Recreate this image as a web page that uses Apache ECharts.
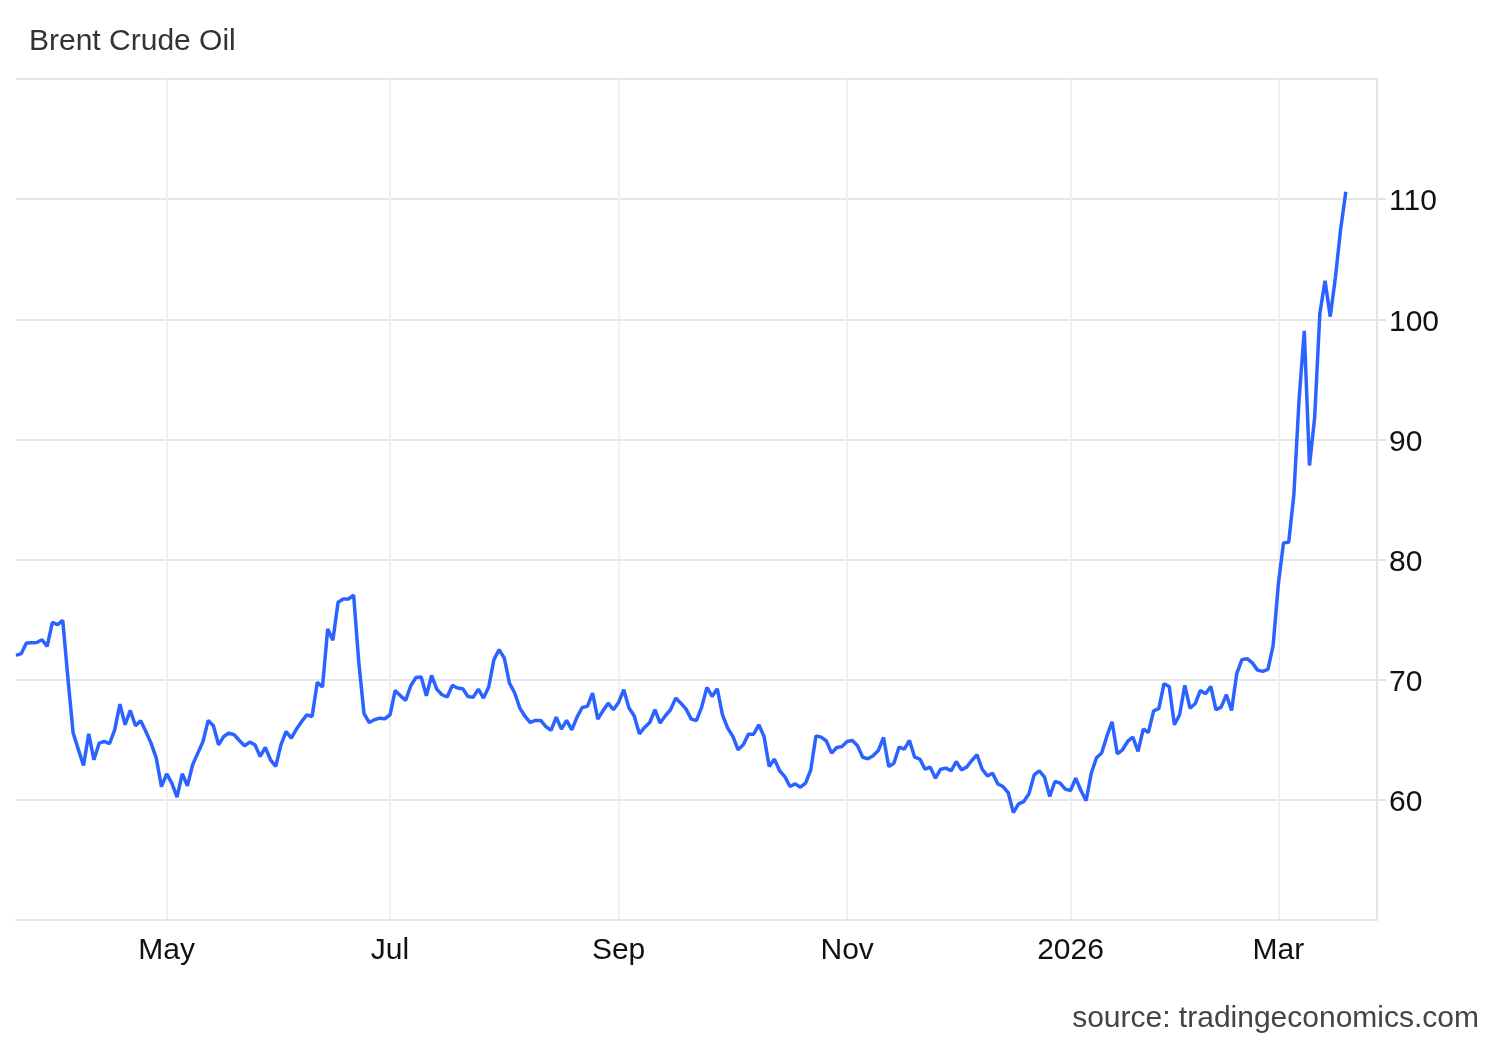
<!DOCTYPE html>
<html>
<head>
<meta charset="utf-8">
<script src="https://cdn.jsdelivr.net/npm/echarts@6/dist/echarts.min.js"></script>
<style>
html,body{margin:0;padding:0;background:#fff;}
#chart{width:1500px;height:1040px;}
</style>
</head>
<body>
<div id="chart"></div>
<script>
// Trading days shown on the category axis (month -> days of month)
const tradingDays = [
  ['2025-03', '20 21 24 25 26 27 28 31'],
  ['2025-04', '1 2 3 4 7 8 9 10 11 14 15 16 17 21 22 23 24 25 28 29 30'],
  ['2025-05', '1 2 5 6 7 8 9 12 13 14 15 16 19 20 21 22 23 26 27 28 29 30'],
  ['2025-06', '2 3 4 5 6 9 10 11 12 13 16 17 18 19 20 23 24 25 26 27 30'],
  ['2025-07', '1 2 3 4 7 8 9 10 11 14 15 16 17 18 21 22 23 24 25 28 29 30 31'],
  ['2025-08', '1 4 5 6 7 8 11 12 13 14 15 18 19 20 21 22 25 26 27 28 29'],
  ['2025-09', '2 3 4 5 8 9 10 11 12 15 16 17 18 19 22 23 24 25 26 29 30'],
  ['2025-10', '1 2 3 6 7 8 9 10 13 14 15 16 17 20 21 22 23 24 27 28 29 30 31'],
  ['2025-11', '3 4 5 6 7 10 11 12 13 14 17 18 19 20 21 24 25 26 27 28'],
  ['2025-12', '1 2 3 4 5 8 9 10 11 12 15 16 17 18 19 22 23 24 25 26 29 30 31'],
  ['2026-01', '2 5 6 7 8 9 12 13 14 15 16 20 21 22 23 26 27 28 29 30'],
  ['2026-02', '2 3 4 5 6 9 10 11 12 13 16 17 18 19 20 23 24 25 26 27'],
  ['2026-03', '2 3 4 5 6 9 10 11 12 13 16 17 18 19 20 23 24 25 26 27']
];

// Brent close (USD/bbl), one value per trading day from 2025-03-20
const prices = [
  72.03, 72.17, 73.06, 73.08, 73.10, 73.33, 72.78, 74.78, 74.58, 74.94,
  70.10, 65.56, 64.20, 62.86, 65.50, 63.33, 64.72, 64.86, 64.67, 65.83,
  67.97, 66.25, 67.44, 66.17, 66.58, 65.69, 64.72, 63.47, 61.10, 62.17,
  61.39, 60.22, 62.17, 61.17, 62.92, 63.89, 64.86, 66.61, 66.17, 64.58,
  65.28, 65.56, 65.42, 64.94, 64.50, 64.81, 64.58, 63.61, 64.36, 63.33,
  62.78, 64.58, 65.69, 65.14, 65.89, 66.53, 67.08, 66.94, 69.78, 69.39,
  74.22, 73.28, 76.44, 76.72, 76.72, 77.03, 71.39, 67.17, 66.44, 66.67,
  66.80, 66.75, 67.08, 69.11, 68.67, 68.28, 69.50, 70.19, 70.22, 68.67,
  70.36, 69.22, 68.75, 68.56, 69.53, 69.31, 69.25, 68.61, 68.53, 69.22,
  68.47, 69.39, 71.67, 72.50, 71.80, 69.72, 68.89, 67.64, 66.94, 66.44,
  66.61, 66.61, 66.10, 65.78, 66.89, 65.89, 66.61, 65.83, 66.89, 67.69,
  67.78, 68.89, 66.72, 67.42, 68.05, 67.50, 68.11, 69.17, 67.64, 67.00,
  65.50, 66.03, 66.44, 67.50, 66.39, 67.00, 67.50, 68.47, 68.05, 67.55,
  66.72, 66.61, 67.72, 69.36, 68.61, 69.25, 67.08, 65.97, 65.28, 64.17,
  64.58, 65.47, 65.47, 66.25, 65.28, 62.78, 63.39, 62.42, 61.94, 61.11,
  61.33, 61.05, 61.39, 62.50, 65.33, 65.22, 64.90, 63.89, 64.36, 64.44,
  64.86, 64.94, 64.50, 63.55, 63.42, 63.67, 64.11, 65.19, 62.78, 63.05,
  64.39, 64.22, 64.94, 63.55, 63.39, 62.55, 62.72, 61.80, 62.55, 62.64,
  62.42, 63.19, 62.50, 62.72, 63.28, 63.75, 62.55, 62.00, 62.22, 61.33,
  61.11, 60.61, 58.94, 59.67, 59.86, 60.50, 62.08, 62.42, 61.89, 60.28,
  61.53, 61.39, 60.89, 60.78, 61.80, 60.78, 59.94, 62.22, 63.50, 63.90,
  65.30, 66.50, 63.83, 64.17, 64.86, 65.22, 64.03, 65.89, 65.61, 67.40,
  67.60, 69.67, 69.44, 66.25, 67.08, 69.53, 67.64, 68.00, 69.11, 68.83,
  69.44, 67.50, 67.72, 68.75, 67.44, 70.50, 71.67, 71.75, 71.40, 70.80,
  70.69, 70.86, 72.83, 77.92, 81.39, 81.44, 85.42, 93.33, 99.03, 87.83,
  91.81, 100.50, 103.20, 100.22, 103.50, 107.50, 110.61
];

// Months that carry an x-axis label, and the label shown
const tickMonths = ['2025-05', '2025-07', '2025-09', '2025-11', '2026-01', '2026-03'];
const tickLabels = ['May', 'Jul', 'Sep', 'Nov', '2026', 'Mar'];

const yTicks = { min: 50, max: 120, interval: 10 };

// ---- build category list ----
const categories = [];
tradingDays.forEach(function (m) {
  m[1].split(' ').forEach(function (d) {
    categories.push(m[0] + '-' + (d.length < 2 ? '0' + d : d));
  });
});
const tickIndex = {};
tickMonths.forEach(function (mon, k) {
  const idx = categories.findIndex(function (c) { return c.slice(0, 7) === mon; });
  if (idx >= 0) tickIndex[idx] = tickLabels[k];
});
const isTick = function (index) { return tickIndex.hasOwnProperty(index); };

const FONT = '"Liberation Sans", Arial, Helvetica, sans-serif';

const chart = echarts.init(document.getElementById('chart'), null, { renderer: 'canvas' });
chart.setOption({
  animation: false,
  backgroundColor: '#ffffff',
  title: [
    {
      text: 'Brent Crude Oil',
      left: 29, top: 27, padding: 0,
      textStyle: { fontFamily: FONT, fontSize: 30, fontWeight: 'normal', color: '#333333' }
    },
    {
      text: 'source: tradingeconomics.com',
      right: 21, top: 1004, padding: 0,
      textStyle: { fontFamily: FONT, fontSize: 30, fontWeight: 'normal', color: '#444444' }
    }
  ],
  grid: { left: 16, right: 123, top: 79, bottom: 120, containLabel: false },
  xAxis: {
    type: 'category',
    data: categories,
    boundaryGap: false,
    axisLine: { show: true, lineStyle: { color: '#e6e6e6', width: 2 } },
    axisTick: { show: false },
    axisLabel: {
      interval: function (index) { return isTick(index); },
      formatter: function (value, index) { return tickIndex[index] || ''; },
      fontFamily: FONT, fontSize: 30, color: '#111111', margin: 16
    },
    splitLine: {
      show: true,
      interval: function (index) { return isTick(index); },
      lineStyle: { color: '#eef1f4', width: 2 }
    }
  },
  yAxis: {
    type: 'value',
    position: 'right',
    min: yTicks.min, max: yTicks.max, interval: yTicks.interval,
    axisLine: { show: true, lineStyle: { color: '#e3e3e3', width: 2 } },
    axisTick: { show: true, inside: false, length: 9, lineStyle: { color: '#e3e3e3', width: 2 } },
    axisLabel: {
      showMinLabel: false, showMaxLabel: false,
      formatter: '{v|{value}}',
      rich: { v: { fontFamily: FONT, fontSize: 30, color: '#111111', padding: [6, 0, 0, 0] } },
      fontFamily: FONT, fontSize: 30, color: '#111111', margin: 12
    },
    splitLine: { show: true, lineStyle: { color: '#e6e6e6', width: 2 } }
  },
  series: [{
    type: 'line',
    data: prices,
    showSymbol: false,
    symbol: 'none',
    lineStyle: { color: '#2a63ff', width: 3.5 },
    itemStyle: { color: '#2a63ff' },
    smooth: false
  }]
});
</script>
</body>
</html>
